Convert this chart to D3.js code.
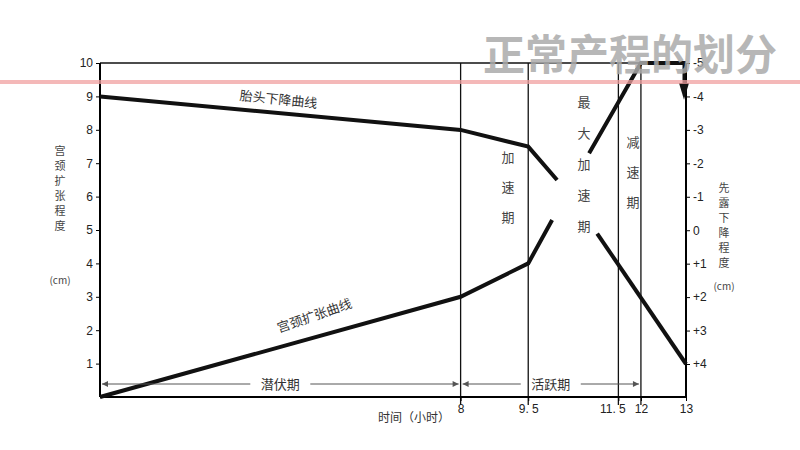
<!DOCTYPE html>
<html><head><meta charset="utf-8">
<script src="https://cdn.jsdelivr.net/npm/d3@7"></script>
<style>body{margin:0;background:#fff}text{font-family:"Noto Sans CJK SC",sans-serif}</style>
</head><body><div id="chart"></div>
<script>
// cervical dilation (left axis, cm) — two pieces, gap in the middle
const dilationA = [[0, 0], [8, 3], [9.5, 4], [10.03, 5.3]];
const dilationB = [[10.85, 7.3], [12, 10], [13, 10]];
// head descent (right axis, cm)
const descentA = [[0, -4], [8, -3], [9.5, -2.5], [10.14, -1.5]];
const descentB = [[11.03, 0.1], [13, 4]];
const leftTicks = [1, 2, 3, 4, 5, 6, 7, 8, 9, 10];
const rightTicks = [-5, -4, -3, -2, -1, 0, 1, 2, 3, 4];
const xTicks = [8, 9.5, 11.5, 12, 13];
const phaseLines = [8, 9.5, 11.5, 12];

const W = 800, H = 450;
const svg = d3.select("#chart").append("svg").attr("width", W).attr("height", H);
const x = d3.scaleLinear().domain([0, 13]).range([100, 686]);
const yL = d3.scaleLinear().domain([0, 10]).range([397, 63]);
const yR = d3.scaleLinear().domain([-5, 4]).range([63, 364]);
const ink = "#111";

// frame
svg.append("line").attr("x1", x(0)).attr("x2", x(13)).attr("y1", yL(10)).attr("y2", yL(10)).attr("stroke", ink).attr("stroke-width", 1.5);
phaseLines.forEach(t => svg.append("line").attr("x1", x(t)).attr("x2", x(t)).attr("y1", yL(10)).attr("y2", 405).attr("stroke", ink).attr("stroke-width", 1.3));

// axes
const gl = svg.append("g").attr("transform", `translate(${x(0)},0)`)
  .call(d3.axisLeft(yL).tickValues(leftTicks).tickSize(4).tickFormat(d3.format("d")));
gl.select(".domain").attr("d", `M0,${yL(10)}V${yL(0)}`).attr("stroke-width", 2);
const gr = svg.append("g").attr("transform", `translate(${x(13)},0)`)
  .call(d3.axisRight(yR).tickValues(rightTicks).tickSize(4).tickFormat(d => d > 0 ? "+" + d : d < 0 ? "-" + (-d) : "0"));
gr.select(".domain").attr("d", `M0,${yR(-5)}V${yL(0)}`).attr("stroke-width", 2);
const gb = svg.append("g").attr("transform", `translate(0,${yL(0)})`)
  .call(d3.axisBottom(x).tickValues(xTicks).tickSize(4).tickFormat(d => String(d).replace(".", ". ")));
gb.select(".domain").attr("d", `M${x(0)},0H${x(13)}`).attr("stroke-width", 2);
svg.selectAll(".tick text").attr("font-size", 12).attr("fill", "#222").style("font-family", "Liberation Sans, sans-serif");
gb.selectAll(".tick text").filter(d => d === 11.5).attr("dx", -6);

// curves
const lineL = d3.line().x(d => x(d[0])).y(d => yL(d[1]));
const lineR = d3.line().x(d => x(d[0])).y(d => yR(d[1]));
[[dilationA, lineL], [dilationB, lineL], [descentA, lineR], [descentB, lineR]].forEach(([d, f]) =>
  svg.append("path").attr("d", f(d)).attr("fill", "none").attr("stroke", ink).attr("stroke-width", 4));

// small arrow on right edge
svg.append("line").attr("x1", x(13) - 2).attr("x2", x(13) - 2).attr("y1", yR(-5)).attr("y2", yR(-4.2)).attr("stroke", ink).attr("stroke-width", 3);
svg.append("path").attr("d", `M${x(13) - 7},${yR(-4.4)}L${x(13) + 3},${yR(-4.4)}L${x(13) - 2},${yR(-3.9)}Z`).attr("fill", ink);

// phase arrows
function span(a, b, label) {
  const y = 384, cx = (x(a) + x(b)) / 2;
  svg.append("line").attr("x1", x(a) + 2).attr("x2", cx - 30).attr("y1", y).attr("y2", y).attr("stroke", "#555");
  svg.append("line").attr("x1", cx + 30).attr("x2", x(b) - 2).attr("y1", y).attr("y2", y).attr("stroke", "#555");
  svg.append("path").attr("d", `M${x(a) + 2},${y}l6,-3v6Z`).attr("fill", "#555");
  svg.append("path").attr("d", `M${x(b) - 2},${y}l-6,-3v6Z`).attr("fill", "#555");
  svg.append("text").attr("x", cx).attr("y", y + 5).attr("text-anchor", "middle").attr("font-size", 13).attr("fill", "#333").text(label);
}
span(0, 8, "潜伏期");
span(8, 12, "活跃期");

// vertical text
function vtext(cx, y0, str, step, size) {
  [...str].forEach((c, i) => svg.append("text").attr("x", cx).attr("y", y0 + i * step)
    .attr("text-anchor", "middle").attr("font-size", size).attr("fill", "#444").text(c));
}
vtext(508, 162, "加速期", 30, 13);
vtext(584, 107, "最大加速期", 31, 13);
vtext(633, 147, "减速期", 30, 13);
vtext(60, 155, "宫颈扩张程度", 15, 11);
vtext(724, 192, "先露下降程度", 15, 11);
svg.append("text").attr("x", 60).attr("y", 284).attr("text-anchor", "middle").attr("font-size", 10).attr("fill", "#444").text("(cm)");
svg.append("text").attr("x", 724).attr("y", 290).attr("text-anchor", "middle").attr("font-size", 10).attr("fill", "#444").text("(cm)");
svg.append("text").attr("x", 414).attr("y", 422).attr("text-anchor", "middle").attr("font-size", 12).attr("fill", "#333").text("时间（小时）");

// curve labels
svg.append("text").attr("transform", "translate(278,104) rotate(6)").attr("text-anchor", "middle").attr("font-size", 13).attr("fill", "#333").text("胎头下降曲线");
svg.append("text").attr("transform", "translate(316,320) rotate(-19)").attr("text-anchor", "middle").attr("font-size", 13).attr("fill", "#333").text("宫颈扩张曲线");

// overlay: title and pink rule
svg.append("text").attr("x", 630).attr("y", 70).attr("text-anchor", "middle").attr("font-size", 42).attr("font-weight", "bold").attr("fill", "#aaa").attr("fill-opacity", 0.85).text("正常产程的划分");
svg.append("rect").attr("x", 0).attr("y", 80).attr("width", W).attr("height", 4).attr("fill", "#f0a0a0").attr("fill-opacity", 0.75);
</script></body></html>
